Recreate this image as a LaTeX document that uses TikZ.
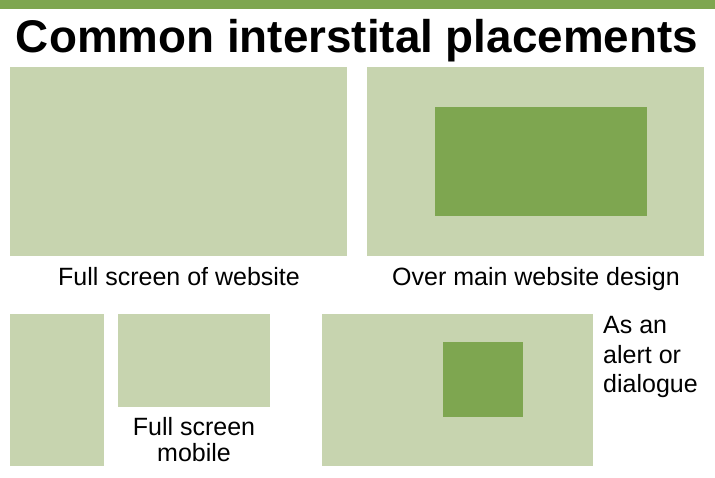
\documentclass[tikz,border=0pt]{standalone}
\usepackage{fontspec}
\setmainfont{Liberation Sans}
\definecolor{lightg}{RGB}{199,212,175}
\definecolor{darkg}{RGB}{126,166,80}
\begin{document}
\begin{tikzpicture}[x=1pt,y=-1pt,
  panel/.style={fill=lightg,draw=none,anchor=north west,inner sep=0pt,outer sep=0pt},
  popup/.style={fill=darkg,draw=none,anchor=north west,inner sep=0pt,outer sep=0pt},
  lbl/.style={inner sep=0pt,anchor=base,font=\fontsize{25}{30}\selectfont},
  lblw/.style={inner sep=0pt,anchor=base west,font=\fontsize{25}{30}\selectfont}]
\useasboundingbox (0,0) rectangle (715,477);
\fill[darkg] (0,0) rectangle (715,9);
\node[inner sep=0pt,anchor=base,font=\fontsize{45.8}{50}\selectfont\bfseries] (title) at (357,52) {Common interstital placements};
% top row
\node[panel,minimum width=337pt,minimum height=189pt] (full) at (10,67) {};
\node[panel,minimum width=337pt,minimum height=189pt] (over) at (367,67) {};
\node[popup,minimum width=212pt,minimum height=109pt] (overpop) at (435,107) {};
\node[lbl] (fulllbl) at (179,285) {Full screen of website};
\node[lbl] (overlbl) at (536,285) {Over main website design};
% bottom row
\node[panel,minimum width=94pt,minimum height=152pt] (mobtall) at (10,314) {};
\node[panel,minimum width=152pt,minimum height=93pt] (mobwide) at (118,314) {};
\node[lbl] (moblbl1) at (194,435) {Full screen};
\node[lbl] (moblbl2) at (194,461) {mobile};
\node[panel,minimum width=271pt,minimum height=152pt] (alert) at (322,314) {};
\node[popup,minimum width=80pt,minimum height=75pt] (alertpop) at (443,342) {};
\node[lblw] (al1) at (603,333) {As an};
\node[lblw] (al2) at (603,363) {alert or};
\node[lblw] (al3) at (603,392) {dialogue};
\end{tikzpicture}
\end{document}
